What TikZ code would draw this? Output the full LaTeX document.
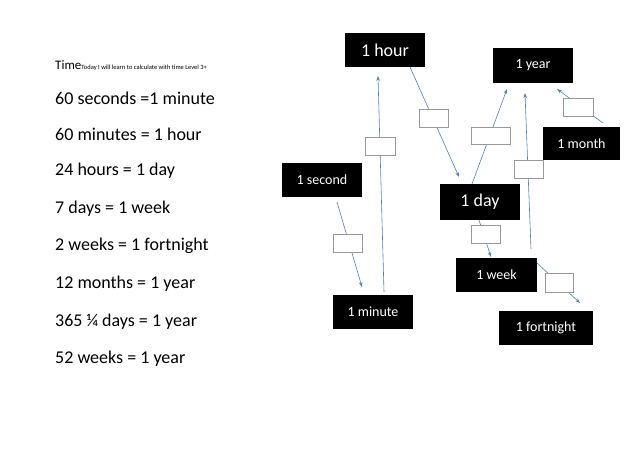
\documentclass[tikz,border=0pt]{standalone}
\usepackage{fontspec}
\setmainfont{Carlito}
\usetikzlibrary{arrows.meta}
\begin{document}
\begin{tikzpicture}[x=1pt,y=-1pt,
  blk/.style={fill=black,text=white,inner sep=0pt,font=\fontsize{14}{16}\selectfont},
  lbl/.style={fill=white,draw=gray!80,inner sep=0pt,line width=0.5pt},
  arr/.style={draw={rgb,255:red,79;green,129;blue,189},line width=0.6pt,-{Stealth[length=5pt,width=3.5pt]}},
  txt/.style={anchor=west,inner sep=0pt,font=\fontsize{18}{20}\selectfont}]
\useasboundingbox (0,0) rectangle (638,451);
\fill[white] (0,0) rectangle (638,451);
% left text
\node[txt] (t0) at (55,66) {{\fontsize{13}{14}\selectfont Time}{\fontsize{6.5}{7}\selectfont Today I will learn to calculate with time Level 3+}};
\node[txt] (t1) at (55,98) {60 seconds =1 minute};
\node[txt] (t2) at (55,134) {60 minutes = 1 hour};
\node[txt] (t3) at (55,171) {24 hours = 1 day};
\node[txt] (t4) at (55,209) {7 days = 1 week};
\node[txt] (t5) at (55,246) {2 weeks = 1 fortnight};
\node[txt] (t6) at (55,284) {12 months = 1 year};
\node[txt] (t7) at (55,322) {365 \textonequarter{} days = 1 year};
\node[txt] (t8) at (55,359) {52 weeks = 1 year};
% black boxes
\node[blk,minimum width=80pt,minimum height=34pt,font=\fontsize{18}{20}\selectfont] (hour) at (385,50) {1 hour};
\node[blk,minimum width=80pt,minimum height=35pt] (year) at (533,65.5) {1 year};
\node[blk,minimum width=80pt,minimum height=34pt] (second) at (322,180) {1 second};
\node[blk,minimum width=77pt,minimum height=33pt] (month) at (581.5,143.5) {1 month};
\node[blk,minimum width=80pt,minimum height=36pt,font=\fontsize{18}{20}\selectfont] (day) at (480,202) {1 day};
\node[blk,minimum width=81pt,minimum height=34pt] (week) at (496.5,275) {1 week};
\node[blk,minimum width=80pt,minimum height=34pt] (minute) at (373,312) {1 minute};
\node[blk,minimum width=94pt,minimum height=34pt] (fortnight) at (546,328) {1 fortnight};
% arrow end points
\coordinate (a1s) at (337,202); \coordinate (a1e) at (362,287);
\coordinate (a2s) at (384,292); \coordinate (a2e) at (378,76);
\coordinate (a3s) at (410,67);  \coordinate (a3e) at (459,177);
\coordinate (a4s) at (472,184); \coordinate (a4e) at (507,89);
\coordinate (a5s) at (479,220); \coordinate (a5e) at (491,257);
\coordinate (a6s) at (531,249); \coordinate (a6e) at (525,93);
\coordinate (a7s) at (603,123); \coordinate (a7e) at (557,89);
\coordinate (a8s) at (537,263); \coordinate (a8e) at (580,303);
\draw[arr] (a1s) -- (a1e);
\draw[arr] (a2s) -- (a2e);
\draw[arr] (a3s) -- (a3e);
\draw[arr] (a4s) -- (a4e);
\draw[arr] (a5s) -- (a5e);
\draw[arr] (a6s) -- (a6e);
\draw[arr] (a7s) -- (a7e);
\draw[arr] (a8s) -- (a8e);
% empty label boxes
\node[lbl,minimum width=29pt,minimum height=18pt] (b1) at (347.5,243) {};
\node[lbl,minimum width=30pt,minimum height=18pt] (b2) at (380,146) {};
\node[lbl,minimum width=29pt,minimum height=18pt] (b3) at (433.5,118) {};
\node[lbl,minimum width=39pt,minimum height=17pt] (b4) at (490.5,135.5) {};
\node[lbl,minimum width=29pt,minimum height=18pt] (b5) at (485.5,234) {};
\node[lbl,minimum width=29pt,minimum height=18pt] (b6) at (528.5,169) {};
\node[lbl,minimum width=30pt,minimum height=18pt] (b7) at (578,107) {};
\node[lbl,minimum width=28pt,minimum height=19pt] (b8) at (559,282.5) {};
\end{tikzpicture}
\end{document}
